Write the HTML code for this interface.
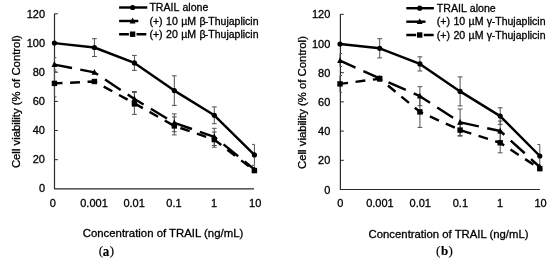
<!DOCTYPE html>
<html><head><meta charset="utf-8"><title>Figure</title>
<style>
html,body{margin:0;padding:0;background:#fff;}
svg{display:block}
text{font-family:"Liberation Sans",Arial,sans-serif;fill:#000;stroke:#000;stroke-width:0.3px}
.tk{font-size:11px}
.lg{font-size:10.6px;word-spacing:0.42px;white-space:pre}
.tt{font-size:11.38px}
.sb{font-family:"Liberation Serif","Times New Roman",serif;font-size:13px;fill:#000;stroke-width:0.15px}
</style></head><body>
<svg width="550" height="263" viewBox="0 0 550 263">
<rect width="550" height="263" fill="#fff"/>
<g>
<path d="M54.5 13.8V188.9H254.0" fill="none" stroke="#2a2a2a" stroke-width="1.2"/>
<path d="M54.5 159.7h3.4M54.5 130.5h3.4M54.5 101.4h3.4M54.5 72.2h3.4M54.5 43.0h3.4M54.5 13.8h3.4" fill="none" stroke="#262626" stroke-width="1"/>
<text x="45.0" y="192.2" text-anchor="end" class="tk">0</text>
<text x="45.0" y="163.1" text-anchor="end" class="tk">20</text>
<text x="45.0" y="134.1" text-anchor="end" class="tk">40</text>
<text x="45.0" y="105.0" text-anchor="end" class="tk">60</text>
<text x="45.0" y="76.0" text-anchor="end" class="tk">80</text>
<text x="45.0" y="46.9" text-anchor="end" class="tk">100</text>
<text x="45.0" y="17.9" text-anchor="end" class="tk">120</text>
<text x="52.9" y="206.7" text-anchor="middle" class="tk">0</text>
<text x="94.0" y="206.7" text-anchor="middle" class="tk">0.001</text>
<text x="134.1" y="206.7" text-anchor="middle" class="tk">0.01</text>
<text x="174.0" y="206.7" text-anchor="middle" class="tk">0.1</text>
<text x="214.0" y="206.7" text-anchor="middle" class="tk">1</text>
<text x="255.2" y="206.7" text-anchor="middle" class="tk">10</text>
<path d="M94.4 38.7V56.5M92.0 38.7h4.8M92.0 56.5h4.8M134.4 55.4V70.4M132.0 55.4h4.8M132.0 70.4h4.8M174.3 75.8V105.4M171.9 75.8h4.8M171.9 105.4h4.8M214.3 106.9V123.7M211.9 106.9h4.8M211.9 123.7h4.8M254.4 144.4V165.4M252.0 144.4h2.4M252.0 165.4h2.4M54.4 57.6V71.6M54.4 57.6h2.0M54.4 71.6h2.0M134.4 91.5V106.5M132.0 91.5h4.8M132.0 106.5h4.8M174.3 113.9V131.7M171.9 113.9h4.8M171.9 131.7h4.8M214.3 128.3V145.5M211.9 128.3h4.8M211.9 145.5h4.8M54.4 69.9V96.9M54.4 69.9h2.0M54.4 96.9h2.0M134.4 92.4V114.4M132.0 92.4h4.8M132.0 114.4h4.8M174.3 116.9V134.9M171.9 116.9h4.8M171.9 134.9h4.8M214.3 132.0V147.2M211.9 132.0h4.8M211.9 147.2h4.8" fill="none" stroke="#505050" stroke-width="1"/>
<polyline points="54.4,43.1 94.4,47.5 134.4,62.9 174.3,90.6 214.3,115.3 254.4,154.9" fill="none" stroke="#000" stroke-width="2.45" stroke-linejoin="round"/>
<polyline points="54.4,64.6 94.4,72.4 134.4,99.0 174.3,122.8 214.3,136.9 254.4,169.4" fill="none" stroke="#000" stroke-width="2.45" stroke-dasharray="18.8 8.4" stroke-dashoffset="0.85" stroke-linejoin="round"/>
<polyline points="54.4,83.4 94.4,81.5 134.4,103.4 174.3,125.9 214.3,139.6 254.4,170.6" fill="none" stroke="#000" stroke-width="2.45" stroke-dasharray="9.8 7.65" stroke-dashoffset="1.7" stroke-linejoin="round"/>
<circle cx="54.4" cy="43.1" r="2.6" fill="#000"/>
<circle cx="94.4" cy="47.5" r="2.6" fill="#000"/>
<circle cx="134.4" cy="62.9" r="2.6" fill="#000"/>
<circle cx="174.3" cy="90.6" r="2.6" fill="#000"/>
<circle cx="214.3" cy="115.3" r="2.6" fill="#000"/>
<circle cx="254.4" cy="154.9" r="2.6" fill="#000"/>
<path d="M54.4 61.1L57.3 67.0H51.5Z" fill="#000"/>
<path d="M94.4 68.9L97.3 74.8H91.5Z" fill="#000"/>
<path d="M134.4 95.5L137.3 101.4H131.5Z" fill="#000"/>
<path d="M174.3 119.3L177.2 125.2H171.4Z" fill="#000"/>
<path d="M214.3 133.4L217.2 139.3H211.4Z" fill="#000"/>
<path d="M254.4 165.9L257.3 171.8H251.5Z" fill="#000"/>
<rect x="51.7" y="80.7" width="5.4" height="5.4" fill="#000"/>
<rect x="91.7" y="78.8" width="5.4" height="5.4" fill="#000"/>
<rect x="131.7" y="100.7" width="5.4" height="5.4" fill="#000"/>
<rect x="171.6" y="123.2" width="5.4" height="5.4" fill="#000"/>
<rect x="211.6" y="136.9" width="5.4" height="5.4" fill="#000"/>
<rect x="251.7" y="167.9" width="5.4" height="5.4" fill="#000"/>
<path d="M119.1 7.5H147.3" stroke="#000" stroke-width="2.45"/>
<circle cx="132.6" cy="7.5" r="2.6" fill="#000"/>
<text x="149.4" y="11.2" class="lg">TRAIL alone</text>
<path d="M119.1 21.0H138.3" stroke="#000" stroke-width="2.45"/>
<path d="M132.6 17.5L135.5 23.4H129.7Z" fill="#000"/>
<text x="149.4" y="25.1" class="lg">(+) 10 µM <tspan>β</tspan><tspan dx="-0.7" style="font-size:10.5px">-Thujaplicin</tspan></text>
<path d="M119.1 34.2H147.3" stroke="#000" stroke-width="2.45" stroke-dasharray="9.8 7.65"/>
<rect x="129.9" y="31.5" width="5.4" height="5.4" fill="#000"/>
<text x="149.4" y="38.0" class="lg">(+) 20 µM <tspan>β</tspan><tspan dx="-0.7" style="font-size:10.5px">-Thujaplicin</tspan></text>
<text transform="translate(20.2 101.7) rotate(-90)" text-anchor="middle" class="tt" style="font-size:11.34px">Cell viability (% of Control)</text>
<text x="82.7" y="236.8" class="tt">Concentration of TRAIL (ng/mL)</text>
<text x="98.7" y="255.0" class="sb">(</text>
<text transform="translate(102.7 255.5) scale(1 1.19)" class="sb" font-weight="bold">a</text>
<text x="109.7" y="255.0" class="sb">)</text>
</g>
<g>
<path d="M340.4 14.3V189.5H539.9" fill="none" stroke="#2a2a2a" stroke-width="1.2"/>
<path d="M340.4 160.3h3.4M340.4 131.1h3.4M340.4 101.9h3.4M340.4 72.7h3.4M340.4 43.5h3.4M340.4 14.3h3.4" fill="none" stroke="#262626" stroke-width="1"/>
<text x="330.3" y="193.5" text-anchor="end" class="tk">0</text>
<text x="330.3" y="164.3" text-anchor="end" class="tk">20</text>
<text x="330.3" y="135.1" text-anchor="end" class="tk">40</text>
<text x="330.3" y="105.9" text-anchor="end" class="tk">60</text>
<text x="330.3" y="76.7" text-anchor="end" class="tk">80</text>
<text x="330.3" y="47.5" text-anchor="end" class="tk">100</text>
<text x="330.3" y="18.3" text-anchor="end" class="tk">120</text>
<text x="340.3" y="206.9" text-anchor="middle" class="tk">0</text>
<text x="379.9" y="206.9" text-anchor="middle" class="tk">0.001</text>
<text x="420.3" y="206.9" text-anchor="middle" class="tk">0.01</text>
<text x="460.4" y="206.9" text-anchor="middle" class="tk">0.1</text>
<text x="500.1" y="206.9" text-anchor="middle" class="tk">1</text>
<text x="540.6" y="206.9" text-anchor="middle" class="tk">10</text>
<path d="M379.7 38.7V57.9M377.3 38.7h4.8M377.3 57.9h4.8M419.9 56.8V71.0M417.5 56.8h4.8M417.5 71.0h4.8M460.1 76.9V105.9M457.7 76.9h4.8M457.7 105.9h4.8M500.2 107.8V124.4M497.8 107.8h4.8M497.8 124.4h4.8M539.8 144.5V167.5M537.4 144.5h2.4M537.4 167.5h2.4M340.0 53.5V66.5M340.0 53.5h2.0M340.0 66.5h2.0M419.9 86.7V105.7M417.5 86.7h4.8M417.5 105.7h4.8M460.1 109.0V135.6M457.7 109.0h4.8M457.7 135.6h4.8M500.2 121.0V141.0M497.8 121.0h4.8M497.8 141.0h4.8M340.0 75.5V92.3M340.0 75.5h2.0M340.0 92.3h2.0M379.7 76.2V81.2M377.3 76.2h4.8M377.3 81.2h4.8M419.9 96.4V127.4M417.5 96.4h4.8M417.5 127.4h4.8M460.1 124.1V136.1M457.7 124.1h4.8M457.7 136.1h4.8M500.2 132.8V152.8M497.8 132.8h4.8M497.8 152.8h4.8" fill="none" stroke="#505050" stroke-width="1"/>
<polyline points="340.0,44.0 379.7,48.3 419.9,63.9 460.1,91.4 500.2,116.1 539.8,156.0" fill="none" stroke="#000" stroke-width="2.45" stroke-linejoin="round"/>
<polyline points="340.0,60.7 379.7,78.4 419.9,96.2 460.1,122.3 500.2,131.0 539.8,167.0" fill="none" stroke="#000" stroke-width="2.45" stroke-dasharray="18.9 8.6" stroke-dashoffset="1.9" stroke-linejoin="round"/>
<polyline points="340.0,83.9 379.7,78.7 419.9,111.9 460.1,130.1 500.2,142.8 539.8,168.7" fill="none" stroke="#000" stroke-width="2.45" stroke-dasharray="9.9 7.6" stroke-dashoffset="1.85" stroke-linejoin="round"/>
<circle cx="340.0" cy="44.0" r="2.6" fill="#000"/>
<circle cx="379.7" cy="48.3" r="2.6" fill="#000"/>
<circle cx="419.9" cy="63.9" r="2.6" fill="#000"/>
<circle cx="460.1" cy="91.4" r="2.6" fill="#000"/>
<circle cx="500.2" cy="116.1" r="2.6" fill="#000"/>
<circle cx="539.8" cy="156.0" r="2.6" fill="#000"/>
<path d="M340.0 57.2L342.9 63.1H337.1Z" fill="#000"/>
<path d="M379.7 74.9L382.6 80.8H376.8Z" fill="#000"/>
<path d="M419.9 92.7L422.8 98.6H417.0Z" fill="#000"/>
<path d="M460.1 118.8L463.0 124.7H457.2Z" fill="#000"/>
<path d="M500.2 127.5L503.1 133.4H497.3Z" fill="#000"/>
<path d="M539.8 163.5L542.7 169.4H536.9Z" fill="#000"/>
<rect x="337.3" y="81.2" width="5.4" height="5.4" fill="#000"/>
<rect x="377.0" y="76.0" width="5.4" height="5.4" fill="#000"/>
<rect x="417.2" y="109.2" width="5.4" height="5.4" fill="#000"/>
<rect x="457.4" y="127.4" width="5.4" height="5.4" fill="#000"/>
<rect x="497.5" y="140.1" width="5.4" height="5.4" fill="#000"/>
<rect x="537.1" y="166.0" width="5.4" height="5.4" fill="#000"/>
<path d="M406.3 8.2H433.9" stroke="#000" stroke-width="2.45"/>
<circle cx="419.7" cy="8.2" r="2.6" fill="#000"/>
<text x="436.8" y="11.8" class="lg">TRAIL alone</text>
<path d="M406.3 21.7H425.5" stroke="#000" stroke-width="2.45"/>
<path d="M419.7 18.2L422.6 24.1H416.8Z" fill="#000"/>
<text x="436.8" y="25.3" class="lg">(+) 10 µM <tspan>γ</tspan><tspan dx="-0.35" style="font-size:10.5px">-Thujaplicin</tspan></text>
<path d="M406.3 35.0H433.9" stroke="#000" stroke-width="2.45" stroke-dasharray="9.9 7.6"/>
<rect x="417.0" y="32.3" width="5.4" height="5.4" fill="#000"/>
<text x="436.8" y="38.8" class="lg">(+) 20 µM <tspan>γ</tspan><tspan dx="-0.35" style="font-size:10.5px">-Thujaplicin</tspan></text>
<text transform="translate(305.8 102.5) rotate(-90)" text-anchor="middle" class="tt" style="font-size:11.34px">Cell viability (% of Control)</text>
<text x="368.6" y="237.7" class="tt" style="font-size:11.33px">Concentration of TRAIL (ng/mL)</text>
<text x="436.1" y="255.1" class="sb">(</text>
<text x="440.9" y="255.1" class="sb" font-weight="bold">b</text>
<text x="448.4" y="255.1" class="sb">)</text>
</g>
</svg>
</body></html>
